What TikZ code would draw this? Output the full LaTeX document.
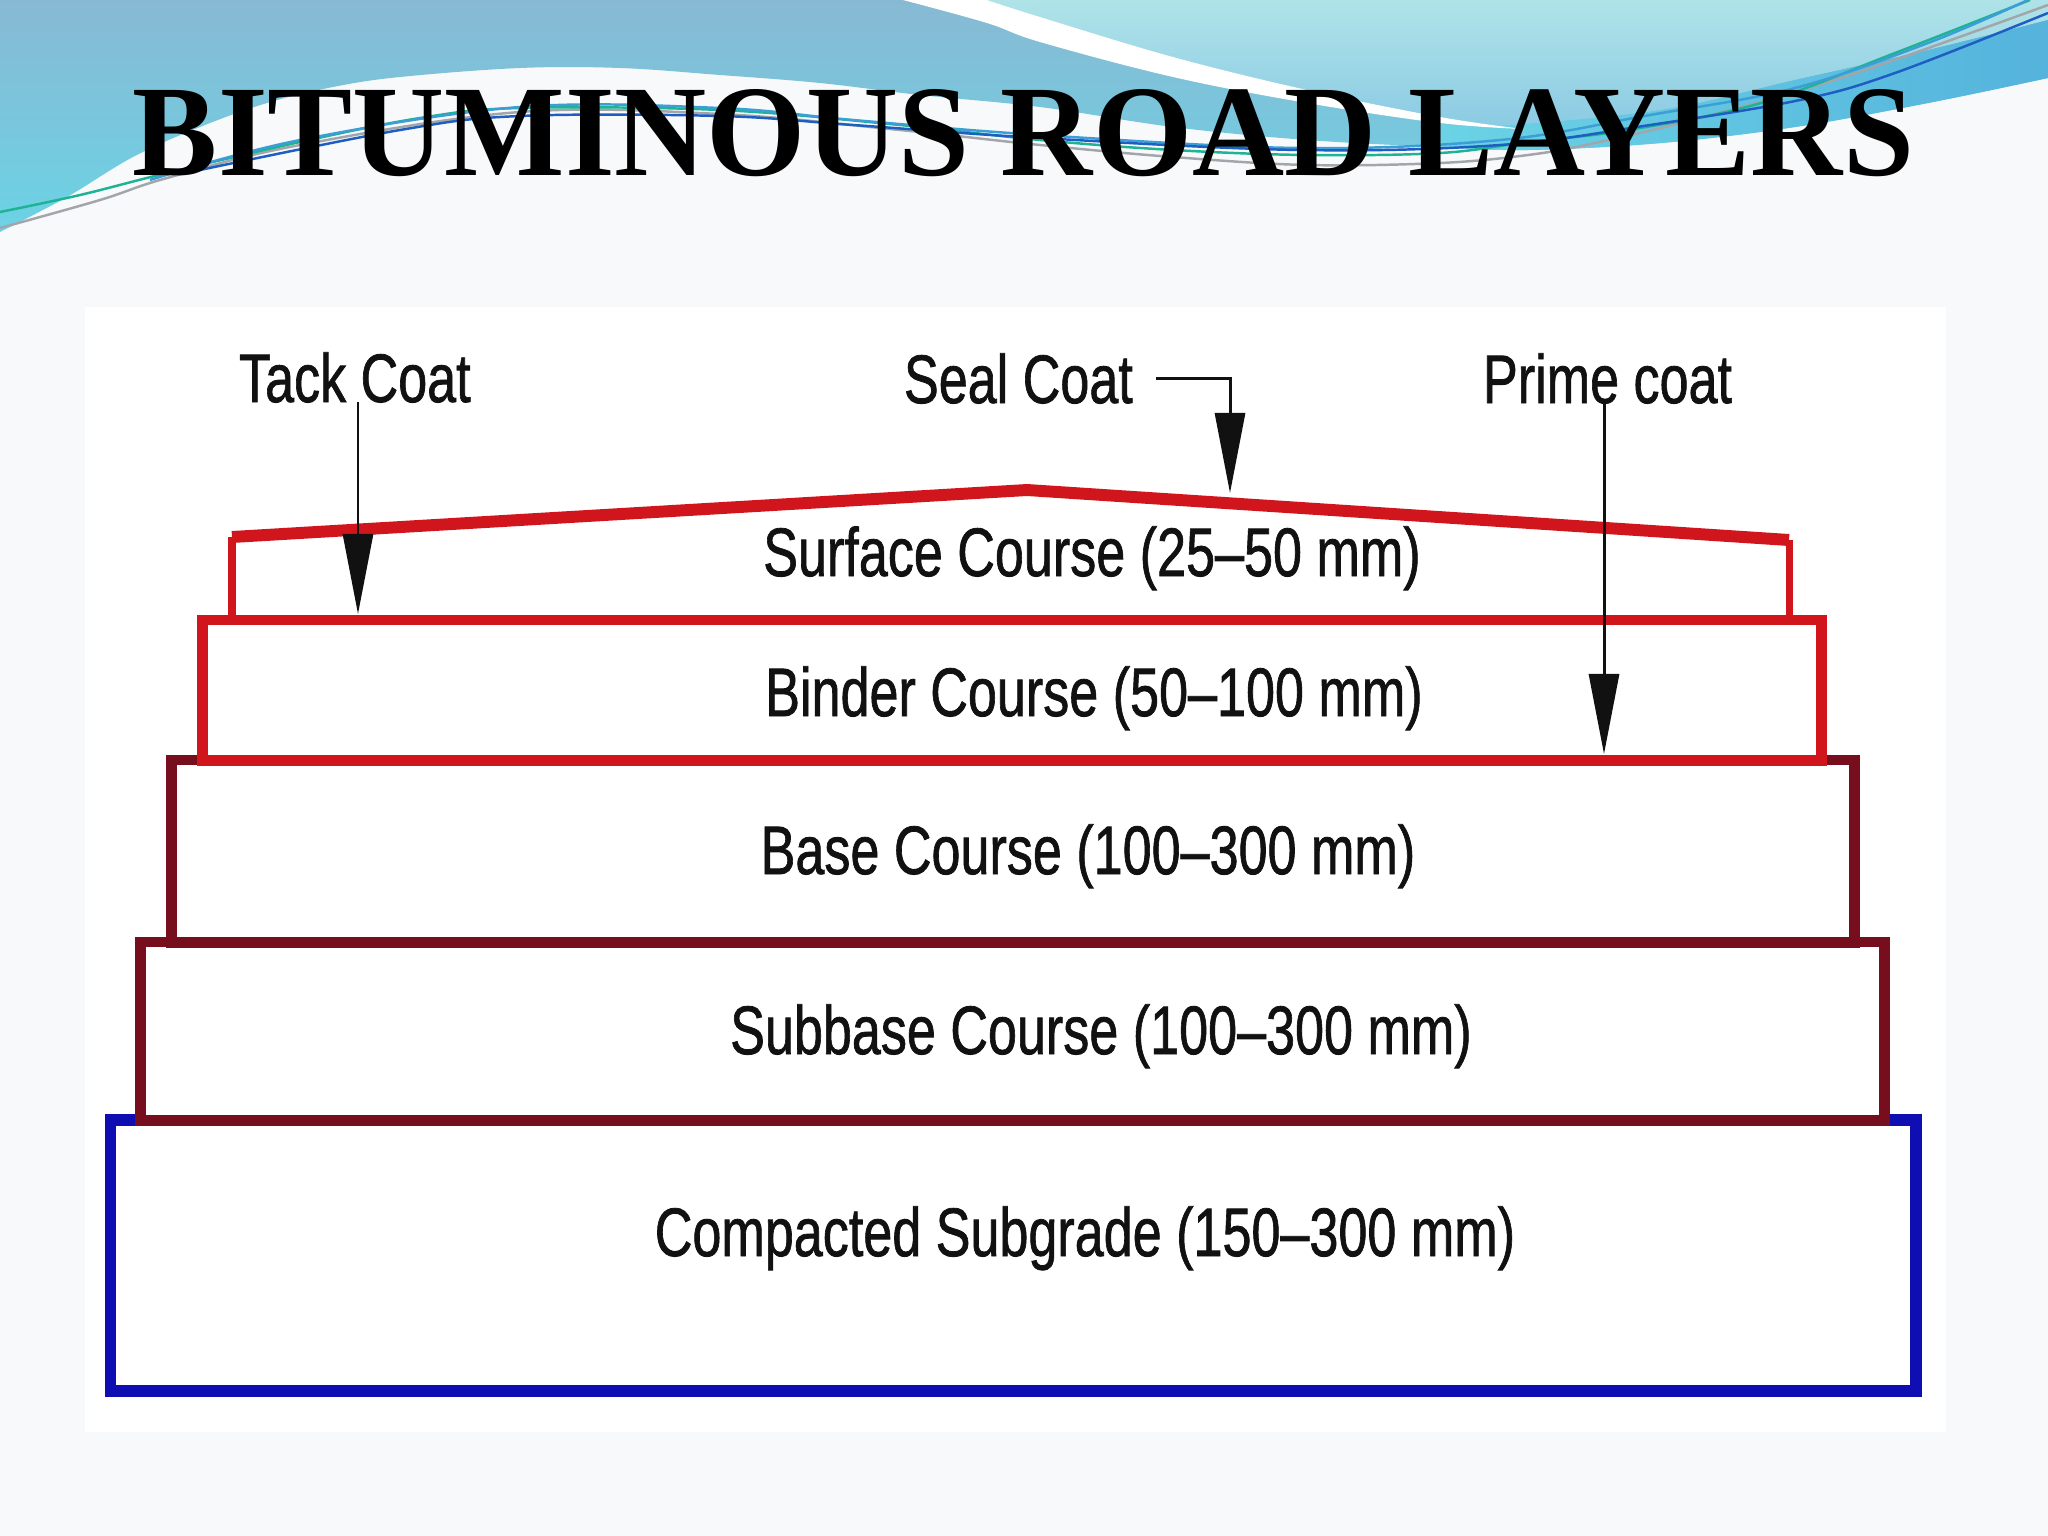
\documentclass[tikz,border=0pt]{standalone}
\usepackage{fontspec}
\usepackage{graphicx}
\usetikzlibrary{arrows.meta}
\newfontfamily\titlefont{Liberation Serif}
\newfontfamily\lblfont[FakeBold=1.2]{Liberation Sans}
\definecolor{slidebg}{HTML}{F8F9FA}
\definecolor{hdrtop}{HTML}{88B9D3}
\definecolor{hdrbot}{HTML}{6BD3E5}
\definecolor{lighttop}{HTML}{AFE3E8}
\definecolor{lightbot}{HTML}{8CCBE4}
\definecolor{stripe}{HTML}{55B3DC}
\definecolor{roadred}{RGB}{208,22,28}
\definecolor{roadmaroon}{RGB}{118,14,30}
\definecolor{subblue}{RGB}{14,14,178}
\definecolor{tealline}{HTML}{1DB394}
\definecolor{grayline}{HTML}{A2A6AA}
\definecolor{blueA}{HTML}{3C9ED6}
\definecolor{blueB}{HTML}{1E5DC2}
\definecolor{txt}{HTML}{111111}
\newcommand\laytxt[1]{\scalebox{0.76}[1]{\lblfont\fontsize{19.5}{22}\selectfont #1}}
\tikzset{
  layerbox/.style={rectangle, inner sep=0pt, outer sep=0pt, line width=3.1pt, fill=white},
  laylabel/.style={inner sep=0pt, outer sep=0pt, text=txt, anchor=base},
  coatlabel/.style={inner sep=0pt, outer sep=0pt, text=txt, anchor=base west},
  coatarrow/.style={line width=0.85pt, draw=txt, -{Triangle[length=0.8cm,width=0.3cm]}},
  thinline/.style={line width=0.7pt}
}
\begin{document}
\begin{tikzpicture}[x=0.01cm, y=-0.01cm]
\useasboundingbox (0,0) rectangle (2048,1536);
% slide background
\fill[slidebg] (0,0) rectangle (2048,1536);
% header blue area
\shade[top color=hdrtop, bottom color=hdrbot]
  (0,0) -- (2048,0) -- (2048,78) -- plot[smooth, tension=0.6] coordinates {(2048,78) (1928,103) (1795,127) (1661,143) (1528,150) (1440,147) (1307,140) (1173,127) (1040,107) (920,95) (820,83) (720,75) (620,68) (520,68) (400,77) (333,87) (267,103) (200,127) (133,157) (67,197) (0,232)} -- cycle;
% light cyan area right of the swoosh
\shade[top color=lighttop, bottom color=lightbot]
  (987,0) -- plot[smooth, tension=0.6] coordinates {(987,0) (1040,17) (1173,57) (1307,90) (1440,117) (1500,126)} -- plot[smooth, tension=0.6] coordinates {(1500,126) (1661,110) (1795,80) (1928,50) (2048,20)} -- (2048,0) -- cycle;
% blue stripe
\shade[left color=hdrbot, right color=stripe]
  plot[smooth, tension=0.6] coordinates {(1440,124) (1500,126) (1661,110) (1795,80) (1928,50) (2048,20)} -- (2048,78) -- plot[smooth, tension=0.6] coordinates {(2048,78) (1928,103) (1795,127) (1661,143) (1528,150) (1440,147)} -- cycle;
% white swoosh
\fill[white]
  plot[smooth, tension=0.6] coordinates {(903,0) (987,23) (1040,42) (1173,77) (1307,103) (1440,123) (1523,129)} -- plot[smooth, tension=0.6] coordinates {(1523,129) (1440,117) (1307,90) (1173,57) (1040,17) (987,0)} -- cycle;
% thin decorative lines
\draw[thinline, grayline] plot[smooth, tension=0.6] coordinates {(0,228) (100,200) (167,178) (300,145) (520,112) (720,114) (900,130) (1040,145) (1173,157) (1307,165) (1440,163) (1528,155) (1595,143) (1700,118) (1850,75) (2048,5)};
\draw[thinline, tealline] plot[smooth, tension=0.6] coordinates {(0,212) (80,195) (167,173) (300,142) (420,118) (520,108) (720,110) (900,125) (1040,140) (1173,150) (1307,155) (1440,153) (1528,142) (1628,130) (1761,103) (1895,53) (2030,0)};
\draw[thinline, blueA] plot[smooth, tension=0.6] coordinates {(150,180) (300,140) (520,107) (720,108) (853,120) (1040,135) (1300,148) (1500,140) (1650,115) (1795,88) (1928,43) (2028,0)};
\draw[thinline, blueB] plot[smooth, tension=0.6] coordinates {(200,170) (400,130) (520,116) (720,116) (853,125) (1040,138) (1300,150) (1500,145) (1650,125) (1800,100) (1895,73) (2048,13)};
% title
\node[inner sep=0pt, outer sep=0pt, anchor=base west] (title) at (133,175)
  {\resizebox{17.8cm}{0.86cm}{\titlefont\bfseries BITUMINOUS ROAD LAYERS}};
% diagram panel
\fill[white] (85,307) rectangle (1946,1432);
% layers
\node[layerbox, draw=subblue, line width=3.4pt, minimum width=18.04cm, minimum height=2.71cm] (subgrade) at (1013,1255.5) {};
\node[layerbox, draw=roadmaroon, minimum width=17.43cm, minimum height=1.78cm] (subbase) at (1012.5,1031) {};
\node[layerbox, draw=roadmaroon, minimum width=16.82cm, minimum height=1.82cm] (base) at (1013,851) {};
\node[layerbox, draw=roadred, minimum width=16.18cm, minimum height=1.40cm] (binder) at (1012,690) {};
\coordinate (surfBL) at (232,620);
\coordinate (surfTL) at (232,537);
\coordinate (surfPeak) at (1027,490);
\coordinate (surfTR) at (1789,540);
\coordinate (surfBR) at (1789,620);
\draw[roadred, line width=2pt] (surfBL) -- (surfTL);
\draw[roadred, line width=2pt] (surfTR) -- (surfBR);
\draw[roadred, line width=3.4pt, line join=miter] (surfTL) -- (surfPeak) -- (surfTR);
% layer labels
\node[laylabel] (surfacetxt) at (1092,576) {\laytxt{Surface Course (25–50 mm)}};
\node[laylabel] (bindertxt) at (1094,716) {\laytxt{Binder Course (50–100 mm)}};
\node[laylabel] (basetxt) at (1088,874) {\laytxt{Base Course (100–300 mm)}};
\node[laylabel] (subbasetxt) at (1101,1054) {\laytxt{Subbase Course (100–300 mm)}};
\node[laylabel] (subgradetxt) at (1085,1256) {\laytxt{Compacted Subgrade (150–300 mm)}};
% coat labels
\node[coatlabel] (tack) at (239,402) {\laytxt{Tack Coat}};
\node[coatlabel] (seal) at (904,403) {\laytxt{Seal Coat}};
\node[coatlabel] (prime) at (1483,403) {\laytxt{Prime coat}};
% arrows
\coordinate (tacktip) at (358,614);
\coordinate (sealtip) at (1230,493);
\coordinate (primetip) at (1604,754);
\draw[coatarrow] (tack.base -| tacktip) -- (tacktip);
\draw[coatarrow] ([xshift=0.23cm]seal.east) -| (sealtip);
\draw[coatarrow] (prime.base -| primetip) -- (primetip);
\end{tikzpicture}
\end{document}
